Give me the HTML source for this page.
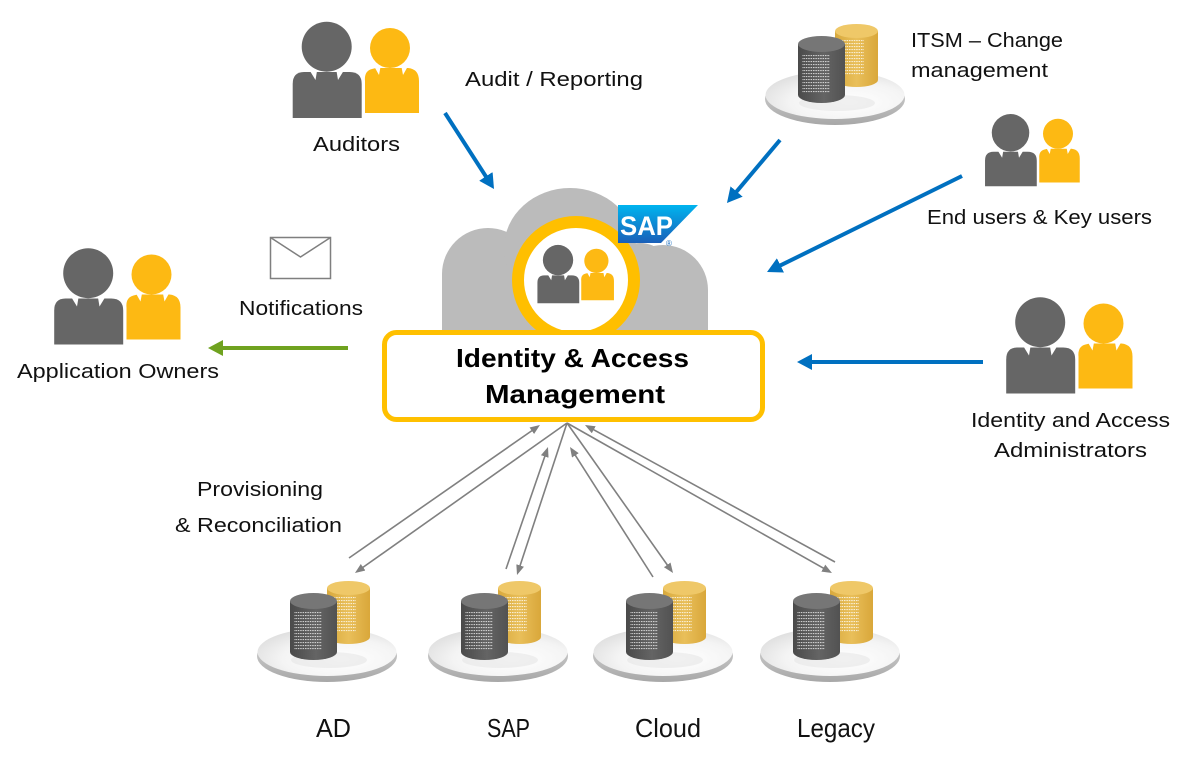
<!DOCTYPE html>
<html>
<head>
<meta charset="utf-8">
<style>
html,body{margin:0;padding:0;background:#fff;width:1200px;height:763px;overflow:hidden}
svg{display:block}
.t{font-family:"Liberation Sans",Arial,sans-serif;fill:#111;font-size:20px}
.b{font-family:"Liberation Sans",Arial,sans-serif;fill:#111;font-size:26px}
.h{font-family:"Liberation Sans",Arial,sans-serif;fill:#000;font-size:26px;font-weight:bold}
</style>
</head>
<body>
<svg width="1200" height="763" viewBox="0 0 1200 763" xmlns="http://www.w3.org/2000/svg">
<defs>
  <marker id="mb" markerUnits="userSpaceOnUse" markerWidth="15" markerHeight="16" refX="3" refY="8" orient="auto">
    <path d="M0,0 L15,8 L0,16 z" fill="#0070c0"/>
  </marker>
  <marker id="mgr" markerUnits="userSpaceOnUse" markerWidth="15" markerHeight="16" refX="3" refY="8" orient="auto">
    <path d="M0,0 L15,8 L0,16 z" fill="#6fa21f"/>
  </marker>
  <marker id="mg" markerUnits="userSpaceOnUse" markerWidth="10" markerHeight="8" refX="2" refY="4" orient="auto">
    <path d="M0,0 L10,4 L0,8 z" fill="#808080"/>
  </marker>
  <pattern id="dotsG" patternUnits="userSpaceOnUse" width="2.4" height="3">
    <rect x="0" y="0" width="1.5" height="1.1" fill="#ffffff" fill-opacity="0.7"/>
  </pattern>
  <pattern id="dotsY" patternUnits="userSpaceOnUse" width="2.4" height="3">
    <rect x="0" y="0" width="1.5" height="1.1" fill="#ffffff" fill-opacity="0.75"/>
  </pattern>
  <linearGradient id="gGray" x1="0" y1="0" x2="1" y2="0">
    <stop offset="0" stop-color="#4a4a4a"/>
    <stop offset="0.55" stop-color="#646464"/>
    <stop offset="1" stop-color="#525252"/>
  </linearGradient>
  <linearGradient id="gYel" x1="0" y1="0" x2="1" y2="0">
    <stop offset="0" stop-color="#d8a93d"/>
    <stop offset="0.5" stop-color="#e9bf5a"/>
    <stop offset="1" stop-color="#d9a73a"/>
  </linearGradient>
  <radialGradient id="gPlate" cx="0.6" cy="0.65" r="0.7">
    <stop offset="0" stop-color="#ffffff"/>
    <stop offset="0.6" stop-color="#f4f4f4"/>
    <stop offset="1" stop-color="#dedede"/>
  </radialGradient>
  <linearGradient id="gEdge" x1="0" y1="0" x2="0" y2="1">
    <stop offset="0" stop-color="#dadada"/>
    <stop offset="1" stop-color="#a8a8a8"/>
  </linearGradient>
  <linearGradient id="gSap" x1="0" y1="0" x2="0" y2="1">
    <stop offset="0" stop-color="#00b4ef"/>
    <stop offset="1" stop-color="#1a5fb8"/>
  </linearGradient>

  <g id="db">
    <ellipse cx="70" cy="29" rx="70" ry="26" fill="url(#gEdge)"/>
    <ellipse cx="70" cy="25" rx="69.5" ry="24" fill="url(#gPlate)"/>
    <ellipse cx="72" cy="33" rx="38" ry="8" fill="#e6e6e6" opacity="0.6"/>
    <path d="M70,-39 L70,10 A21.5,7 0 0 0 113,10 L113,-39 Z" fill="url(#gYel)"/>
    <rect x="77" y="-30" width="22" height="36" fill="url(#dotsY)"/>
    <ellipse cx="91.5" cy="-39" rx="21.5" ry="7" fill="#efc868"/>
    <path d="M33,-26 L33,25 A23.5,8 0 0 0 80,25 L80,-26 Z" fill="url(#gGray)"/>
    <rect x="37" y="-15" width="28" height="38" fill="url(#dotsG)"/>
    <ellipse cx="56.5" cy="-26" rx="23.5" ry="8" fill="#767676"/>
  </g>

  <g id="ppl">
    <circle cx="34.7" cy="25.7" r="25" fill="#666666"/>
    <path d="M0.7,97 V63 Q0.7,51 12,51 H57.7 Q69.7,51 69.7,63 V97 Z" fill="#666666"/>
    <path d="M18,50 L25,50 L23.5,59 Z" fill="#ffffff"/>
    <path d="M44.5,50 L51.5,50 L46,59 Z" fill="#ffffff"/>
    <circle cx="98" cy="27" r="20" fill="#fdb913"/>
    <path d="M73,92 V60 Q72,50 80,48 L84,47 H116 Q127,48 127,60 V92 Z" fill="#fdb913"/>
    <path d="M82.5,46 L88.5,46 L87,54 Z" fill="#ffffff"/>
    <path d="M109.5,46 L115.5,46 L111,54 Z" fill="#ffffff"/>
  </g>
</defs>

<rect x="0" y="0" width="1200" height="763" fill="#ffffff"/>

<!-- People icons -->
<use href="#ppl" transform="translate(292,21)"/>
<use href="#ppl" transform="translate(53.5,247.5)"/>
<use href="#ppl" transform="translate(1005.5,296.5)"/>
<use href="#ppl" transform="translate(984.5,113.5) scale(0.75)"/>

<!-- Databases -->
<use href="#db" transform="translate(765,70)"/>
<use href="#db" transform="translate(257,627)"/>
<use href="#db" transform="translate(428,627)"/>
<use href="#db" transform="translate(593,627)"/>
<use href="#db" transform="translate(760,627)"/>

<!-- Cloud -->
<g fill="#bbbbbb">
  <circle cx="488" cy="274" r="46"/>
  <ellipse cx="570" cy="248" rx="66" ry="60"/>
  <circle cx="640" cy="275" r="32"/>
  <circle cx="663" cy="290" r="45"/>
  <rect x="442" y="274" width="221" height="30"/>
  <rect x="442" y="290" width="266" height="52"/>
</g>
<circle cx="576" cy="280" r="58" fill="#ffffff" stroke="#ffbf00" stroke-width="12"/>
<use href="#ppl" transform="translate(537,244.5) scale(0.606)"/>

<!-- SAP logo -->
<polygon points="618,205 698,205 661,243 618,243" fill="url(#gSap)"/>
<text x="620" y="235" textLength="53" lengthAdjust="spacingAndGlyphs" style="font-family:'Liberation Sans',Arial,sans-serif;font-weight:bold;font-size:27px;fill:#ffffff">SAP</text>
<text x="666" y="246" style="font-family:'Liberation Sans',Arial,sans-serif;font-size:8px;fill:#1d6fbf">®</text>

<!-- Central box -->
<rect x="384.5" y="332.5" width="378" height="87" rx="12" ry="12" fill="#ffffff" stroke="#ffc000" stroke-width="5"/>
<text class="h" x="456" y="367" textLength="233" lengthAdjust="spacingAndGlyphs">Identity &amp; Access</text>
<text class="h" x="485" y="403" textLength="180" lengthAdjust="spacingAndGlyphs">Management</text>

<!-- Blue arrows -->
<g stroke="#0070c0" stroke-width="4" fill="none">
  <line x1="445" y1="113" x2="487.5" y2="178.9" marker-end="url(#mb)"/>
  <line x1="780" y1="140" x2="734.7" y2="193.8" marker-end="url(#mb)"/>
  <line x1="962" y1="176" x2="777.8" y2="266.7" marker-end="url(#mb)"/>
  <line x1="983" y1="362" x2="809" y2="362" marker-end="url(#mb)"/>
</g>
<!-- Green arrow -->
<line x1="348" y1="348" x2="220" y2="348" stroke="#6fa21f" stroke-width="4" marker-end="url(#mgr)"/>

<!-- Gray connectors -->
<g stroke="#808080" stroke-width="1.6" fill="none">
  <line x1="349" y1="558" x2="533.4" y2="429.6" marker-end="url(#mg)"/>
  <line x1="567" y1="423" x2="361.5" y2="568.4" marker-end="url(#mg)"/>
  <line x1="506" y1="569" x2="545.4" y2="454.6" marker-end="url(#mg)"/>
  <line x1="567" y1="423" x2="519.5" y2="567.4" marker-end="url(#mg)"/>
  <line x1="653" y1="577" x2="574.3" y2="453.7" marker-end="url(#mg)"/>
  <line x1="567" y1="423" x2="668.4" y2="566.5" marker-end="url(#mg)"/>
  <line x1="567" y1="423" x2="825" y2="569.1" marker-end="url(#mg)"/>
  <line x1="835" y1="562" x2="592" y2="428.8" marker-end="url(#mg)"/>
</g>

<!-- Envelope -->
<rect x="270.5" y="237.5" width="60" height="41" fill="#ffffff" stroke="#7f7f7f" stroke-width="1.5"/>
<polyline points="270.5,237.5 300.5,257 330.5,237.5" fill="none" stroke="#7f7f7f" stroke-width="1.5"/>

<!-- Labels -->
<text class="t" x="465" y="86" textLength="178" lengthAdjust="spacingAndGlyphs">Audit / Reporting</text>
<text class="t" x="313" y="151" textLength="87" lengthAdjust="spacingAndGlyphs">Auditors</text>
<text class="t" x="911" y="47" textLength="152" lengthAdjust="spacingAndGlyphs">ITSM – Change</text>
<text class="t" x="911" y="77" textLength="137" lengthAdjust="spacingAndGlyphs">management</text>
<text class="t" x="927" y="224" textLength="225" lengthAdjust="spacingAndGlyphs">End users &amp; Key users</text>
<text class="t" x="239" y="315" textLength="124" lengthAdjust="spacingAndGlyphs">Notifications</text>
<text class="t" x="17" y="378" textLength="202" lengthAdjust="spacingAndGlyphs">Application Owners</text>
<text class="t" x="971" y="427" textLength="199" lengthAdjust="spacingAndGlyphs">Identity and Access</text>
<text class="t" x="994" y="457" textLength="153" lengthAdjust="spacingAndGlyphs">Administrators</text>
<text class="t" x="197" y="496" textLength="126" lengthAdjust="spacingAndGlyphs">Provisioning</text>
<text class="t" x="175" y="532" textLength="167" lengthAdjust="spacingAndGlyphs">&amp; Reconciliation</text>

<text class="b" x="316" y="737" textLength="35" lengthAdjust="spacingAndGlyphs">AD</text>
<text class="b" x="487" y="737" textLength="43" lengthAdjust="spacingAndGlyphs">SAP</text>
<text class="b" x="635" y="737" textLength="66" lengthAdjust="spacingAndGlyphs">Cloud</text>
<text class="b" x="797" y="737" textLength="78" lengthAdjust="spacingAndGlyphs">Legacy</text>
</svg>
</body>
</html>
